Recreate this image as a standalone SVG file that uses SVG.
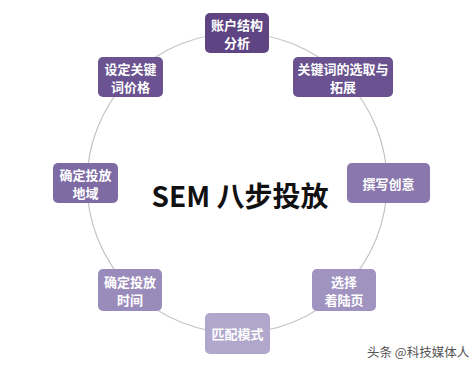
<svg xmlns="http://www.w3.org/2000/svg" width="474" height="367" viewBox="0 0 474 367">
<style>
.n rect{rx:5px;ry:5px}
.n text{font-family:"Noto Sans CJK SC","Noto Sans",sans-serif;font-size:13px;font-weight:bold;fill:#fff;text-anchor:middle;dominant-baseline:central}
.c{fill:none;stroke:#c4c4c4;stroke-width:1.2}
.t{font-family:"Noto Sans CJK SC","Noto Sans",sans-serif;font-size:28px;font-weight:bold;fill:#111;text-anchor:middle}
.w{font-family:"Noto Sans CJK SC",sans-serif;font-size:12.5px;fill:#555}
</style>
<rect width="474" height="367" fill="#fff"/>
<g id="connectors">
<circle class="c" cx="237" cy="183" r="150"/>
</g>
<g id="n1" class="n"><rect x="205" y="13" width="64" height="40" fill="#5e4482"/><text x="237" y="24">账户结构</text><text x="237" y="42">分析</text></g>
<g id="n2" class="n"><rect x="293" y="57" width="100" height="40" fill="#69528f"/><text x="343" y="68">关键词的选取与</text><text x="343" y="86">拓展</text></g>
<g id="n8" class="n"><rect x="347" y="163" width="83" height="40" fill="#8a77ad"/><text x="388.5" y="183">撰写创意</text></g>
<g id="n7" class="n"><rect x="312" y="269" width="64" height="42" fill="#a093c0"/><text x="344" y="281">选择</text><text x="344" y="299">着陆页</text></g>
<g id="n6" class="n"><rect x="205" y="313" width="65" height="41" fill="#b1a7cc"/><text x="237.5" y="333.5">匹配模式</text></g>
<g id="n5" class="n"><rect x="98" y="269" width="64" height="42" fill="#9a8cba"/><text x="130" y="281">确定投放</text><text x="130" y="299">时间</text></g>
<g id="n4" class="n"><rect x="53" y="163" width="65" height="40" fill="#7e6ba4"/><text x="85.5" y="174">确定投放</text><text x="85.5" y="192">地域</text></g>
<g id="n3" class="n"><rect x="98" y="57" width="65" height="40" fill="#6a5390"/><text x="130.5" y="68">设定关键</text><text x="130.5" y="86">词价格</text></g>
<text class="t" x="240" y="207">SEM 八步投放</text>
<text class="w" x="367" y="357">头条 @科技媒体人</text>
</svg>
